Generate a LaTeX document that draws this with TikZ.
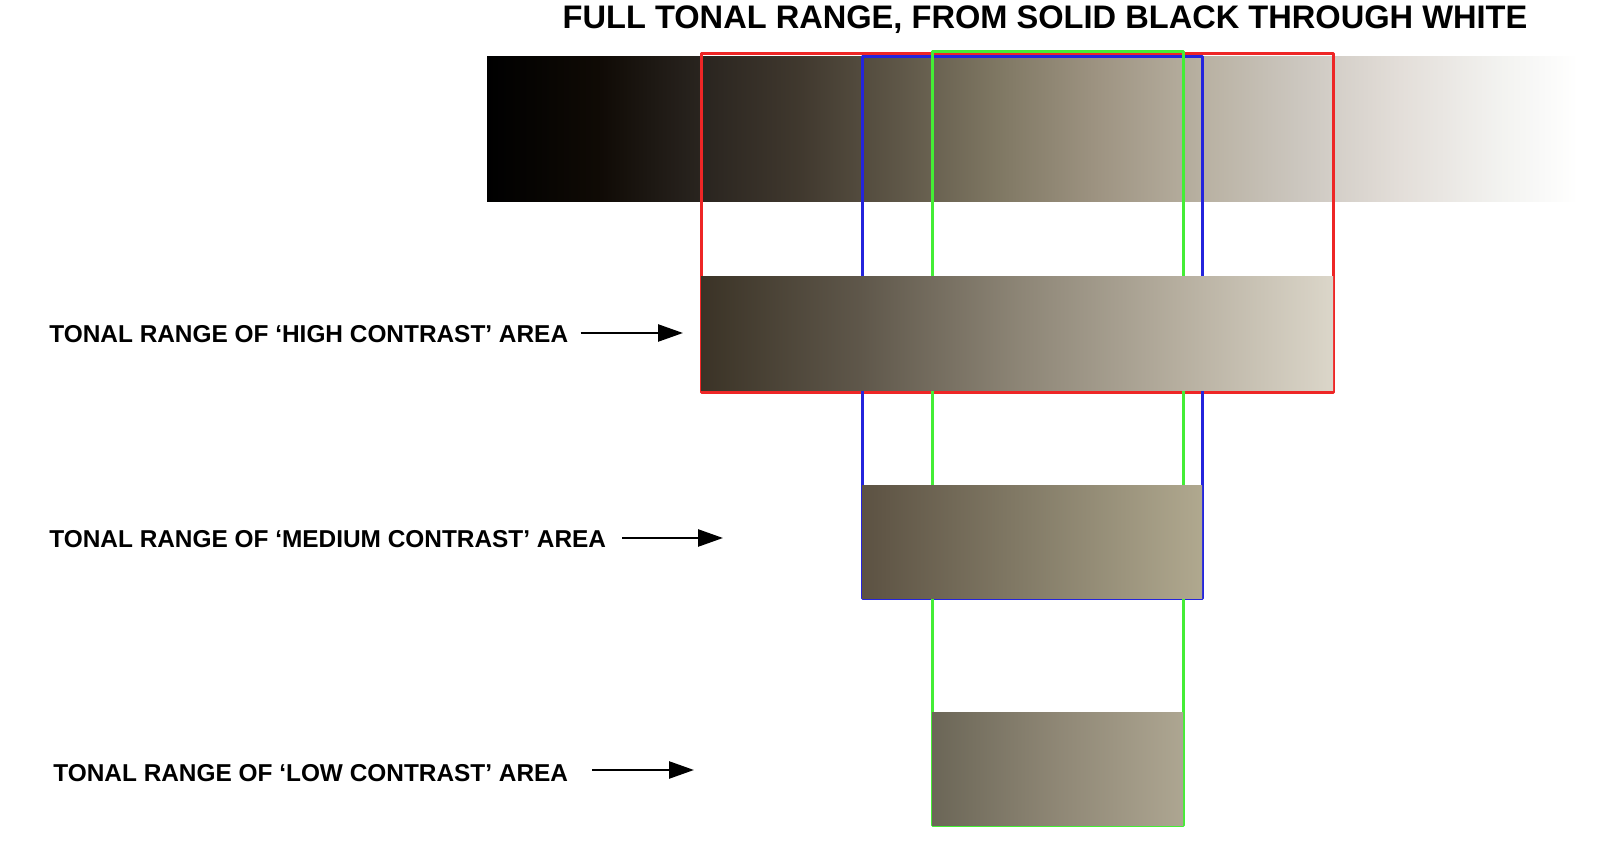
\documentclass[tikz,border=0pt]{standalone}
\usepackage{fontspec}
\setmainfont{Liberation Sans}
\usepackage{xcolor}
\usetikzlibrary{positioning,arrows.meta}

\definecolor{redline}{HTML}{EE2626}
\definecolor{blueline}{HTML}{2424DD}
\definecolor{greenline}{HTML}{44EE36}

\pgfdeclarehorizontalshading{fullshade}{100bp}{rgb(0bp)=(0,0,0); rgb(25bp)=(0,0,0);
  color(30bp)=(black!92!brown); rgb(34.5bp)=(0.16,0.14,0.12); rgb(39bp)=(0.25,0.22,0.18);
  rgb(43.5bp)=(0.37,0.34,0.28); rgb(48bp)=(0.50,0.47,0.39); rgb(52.5bp)=(0.62,0.58,0.51);
  rgb(57bp)=(0.72,0.69,0.63); rgb(61.5bp)=(0.80,0.78,0.75); rgb(66bp)=(0.89,0.87,0.85);
  rgb(70.5bp)=(0.95,0.95,0.94); rgb(74bp)=(1,1,1); rgb(100bp)=(1,1,1)}
\pgfdeclarehorizontalshading{hishade}{100bp}{rgb(0bp)=(0.23,0.20,0.15); rgb(25bp)=(0.23,0.20,0.15);
  rgb(37.5bp)=(0.37,0.34,0.29); rgb(50bp)=(0.55,0.52,0.46); rgb(62.5bp)=(0.71,0.68,0.62);
  rgb(75bp)=(0.86,0.84,0.79); rgb(100bp)=(0.86,0.84,0.79)}
\pgfdeclarehorizontalshading{medshade}{100bp}{rgb(0bp)=(0.36,0.32,0.26); rgb(25bp)=(0.36,0.32,0.26);
  rgb(50bp)=(0.52,0.49,0.41); rgb(75bp)=(0.69,0.66,0.56); rgb(100bp)=(0.69,0.66,0.56)}
\pgfdeclarehorizontalshading{loshade}{100bp}{rgb(0bp)=(0.42,0.40,0.34); rgb(25bp)=(0.42,0.40,0.34);
  rgb(50bp)=(0.56,0.53,0.46); rgb(75bp)=(0.68,0.65,0.57); rgb(100bp)=(0.68,0.65,0.57)}

\begin{document}
\begin{tikzpicture}[x=0.5pt,y=-0.5pt]
\tikzstyle{every node}+=[inner sep=0pt]
\tikzstyle{tonebar}=[rectangle, shade]
\tikzstyle{rangebox}=[line width=1.5pt, line join=round]
\tikzstyle{caption}=[anchor=west, font=\fontsize{12.2}{14}\selectfont\bfseries]
\tikzstyle{pointer}=[line width=1.25pt, shorten <=6pt, -{Triangle[length=12.5pt,width=8.5pt]}]
\useasboundingbox (0,0) rectangle (1600,854);
\node [font=\fontsize{16.3}{19}\selectfont\bfseries] (title) at (1045,20) {FULL TONAL RANGE, FROM SOLID BLACK THROUGH WHITE};
\node [tonebar, shading=fullshade, minimum width=556.5pt, minimum height=72.5pt] (full) at (1043.5,129.5) {};
\draw [rangebox, redline] (701,54) rectangle (1333,393);
\draw [rangebox, blueline] (862,57) rectangle (1202,599);
\draw [rangebox, greenline] (932,52) rectangle (1183,825);
\node [tonebar, shading=hishade, minimum width=316pt, minimum height=57pt] (hibar) at (1017,334) {};
\node [tonebar, shading=medshade, minimum width=170pt, minimum height=56.5pt] (medbar) at (1032,542.5) {};
\node [tonebar, shading=loshade, minimum width=125.5pt, minimum height=56.5pt] (lobar) at (1057.5,768.5) {};
\node [caption] (hilabel) at (49,334) {TONAL RANGE OF ‘HIGH CONTRAST’ AREA};
\node [caption] (medlabel) at (49,539) {TONAL RANGE OF ‘MEDIUM CONTRAST’ AREA};
\node [caption] (lolabel) at (53,773) {TONAL RANGE OF ‘LOW CONTRAST’ AREA};
\coordinate (hitip) at (683,333);
\coordinate (medtip) at (723,538);
\coordinate (lotip) at (694,770);
\draw [pointer] (hilabel.east |- hitip) -- (hitip);
\draw [pointer, shorten <=8pt] (medlabel.east |- medtip) -- (medtip);
\draw [pointer, shorten <=12pt] (lolabel.east |- lotip) -- (lotip);
\end{tikzpicture}
\end{document}
